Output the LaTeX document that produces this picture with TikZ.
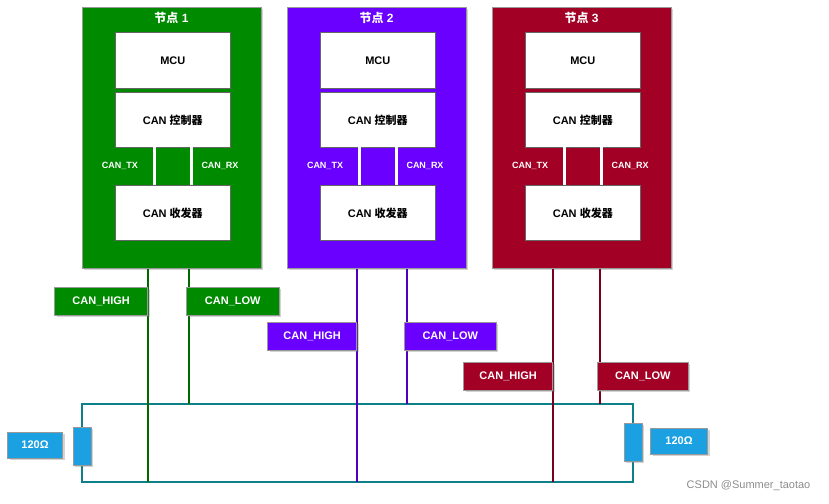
\documentclass[tikz,border=0pt]{standalone}
\usepackage{fontspec}
\setmainfont{Liberation Sans}
\newfontfamily\cjk{Noto Sans CJK SC}
\usetikzlibrary{shadows}
\definecolor{nodeA}{HTML}{008A00}
\definecolor{nodeB}{HTML}{6A00FF}
\definecolor{nodeC}{HTML}{A20025}
\definecolor{busline}{HTML}{0E8088}
\definecolor{resfill}{HTML}{1BA1E2}

\begin{document}
\begin{tikzpicture}[
    x = 1pt, y = -1pt, % pixel grid, y downwards
    font = \sffamily\bfseries,
    semithick
  ]

  \tikzstyle{frame} = [
    draw = black!40,
    drop shadow = {opacity=0.35, shadow xshift=2pt, shadow yshift=-2pt},
    inner sep = 0pt
  ]
  \tikzstyle{block} = [
    draw = black!60,
    fill = white,
    minimum width = 115pt,
    font = \fontsize{11}{13}\selectfont\bfseries
  ]
  \tikzstyle{tag} = [
    frame,
    text = white,
    minimum height = 28pt,
    font = \fontsize{11}{13}\selectfont\bfseries
  ]
  \tikzstyle{wire} = [line width = 2.5pt]

  \useasboundingbox (0,0) rectangle (829,503);

  % bus
  \draw[busline, line width = 2pt] (82,404) rectangle (633,482);

  % nodes
  \foreach \name/\col/\x/\num/\hx/\lx/\ty/\hw/\lw in {
      one/nodeA/82/1/148/189/301/93/93,
      two/nodeB/287/2/357/407/336/89/92,
      three/nodeC/492/3/553/600/376/89/91} {
    \node[frame, fill = \col, minimum width = 179pt, minimum height = 261pt,
          anchor = north west] (\name) at (\x,7) {};
    \node[text = white, font = \fontsize{12}{14}\selectfont\bfseries]
      (\name title) at (\x+89.5,18) {{\cjk 节点} \num};
    \node[block, minimum height = 56pt, anchor = north west]
      (\name mcu) at (\x+33,32) {MCU};
    \node[block, minimum height = 55pt, anchor = north west]
      (\name ctrl) at (\x+33,92) {CAN {\cjk 控制器}};
    \node[block, minimum height = 55pt, anchor = north west]
      (\name xcvr) at (\x+33,185) {CAN {\cjk 收发器}};
    \draw[white, line width = 3pt] (\x+72,147) -- (\x+72,185)
                                   (\x+109,147) -- (\x+109,185);
    \node[white, font = \fontsize{9}{11}\selectfont\bfseries]
      (\name tx) at (\x+38,166) {CAN\_TX};
    \node[white, font = \fontsize{9}{11}\selectfont\bfseries]
      (\name rx) at (\x+138,166) {CAN\_RX};

    \coordinate (\name hb) at (\hx,482);
    \coordinate (\name lb) at (\lx,404);
    \draw[wire, \col!75!black] (\name.south -| \name hb) -- (\name hb);
    \draw[wire, \col!75!black] (\name.south -| \name lb) -- (\name lb);
    \node[tag, fill = \col, minimum width = \hw pt, anchor = east]
      (\name high) at (\hx,\ty) {CAN\_HIGH};
    \node[tag, fill = \col, minimum width = \lw pt, anchor = west]
      (\name low) at (\lx-3,\ty) {CAN\_LOW};
  }

  % terminating resistors
  \node[frame, fill = resfill, minimum width = 18pt, minimum height = 38pt]
    (resL) at (82,446) {};
  \node[frame, fill = resfill, minimum width = 18pt, minimum height = 38pt]
    (resR) at (633,442) {};
  \node[tag, fill = resfill, minimum width = 55pt, minimum height = 26pt]
    (labL) at (35,445) {120Ω};
  \node[tag, fill = resfill, minimum width = 57pt, minimum height = 26pt]
    (labR) at (679,441) {120Ω};

  \node[black!45, font = \fontsize{11}{13}\selectfont, anchor = east]
    (mark) at (814,486) {CSDN @Summer\_taotao};
\end{tikzpicture}
\end{document}
